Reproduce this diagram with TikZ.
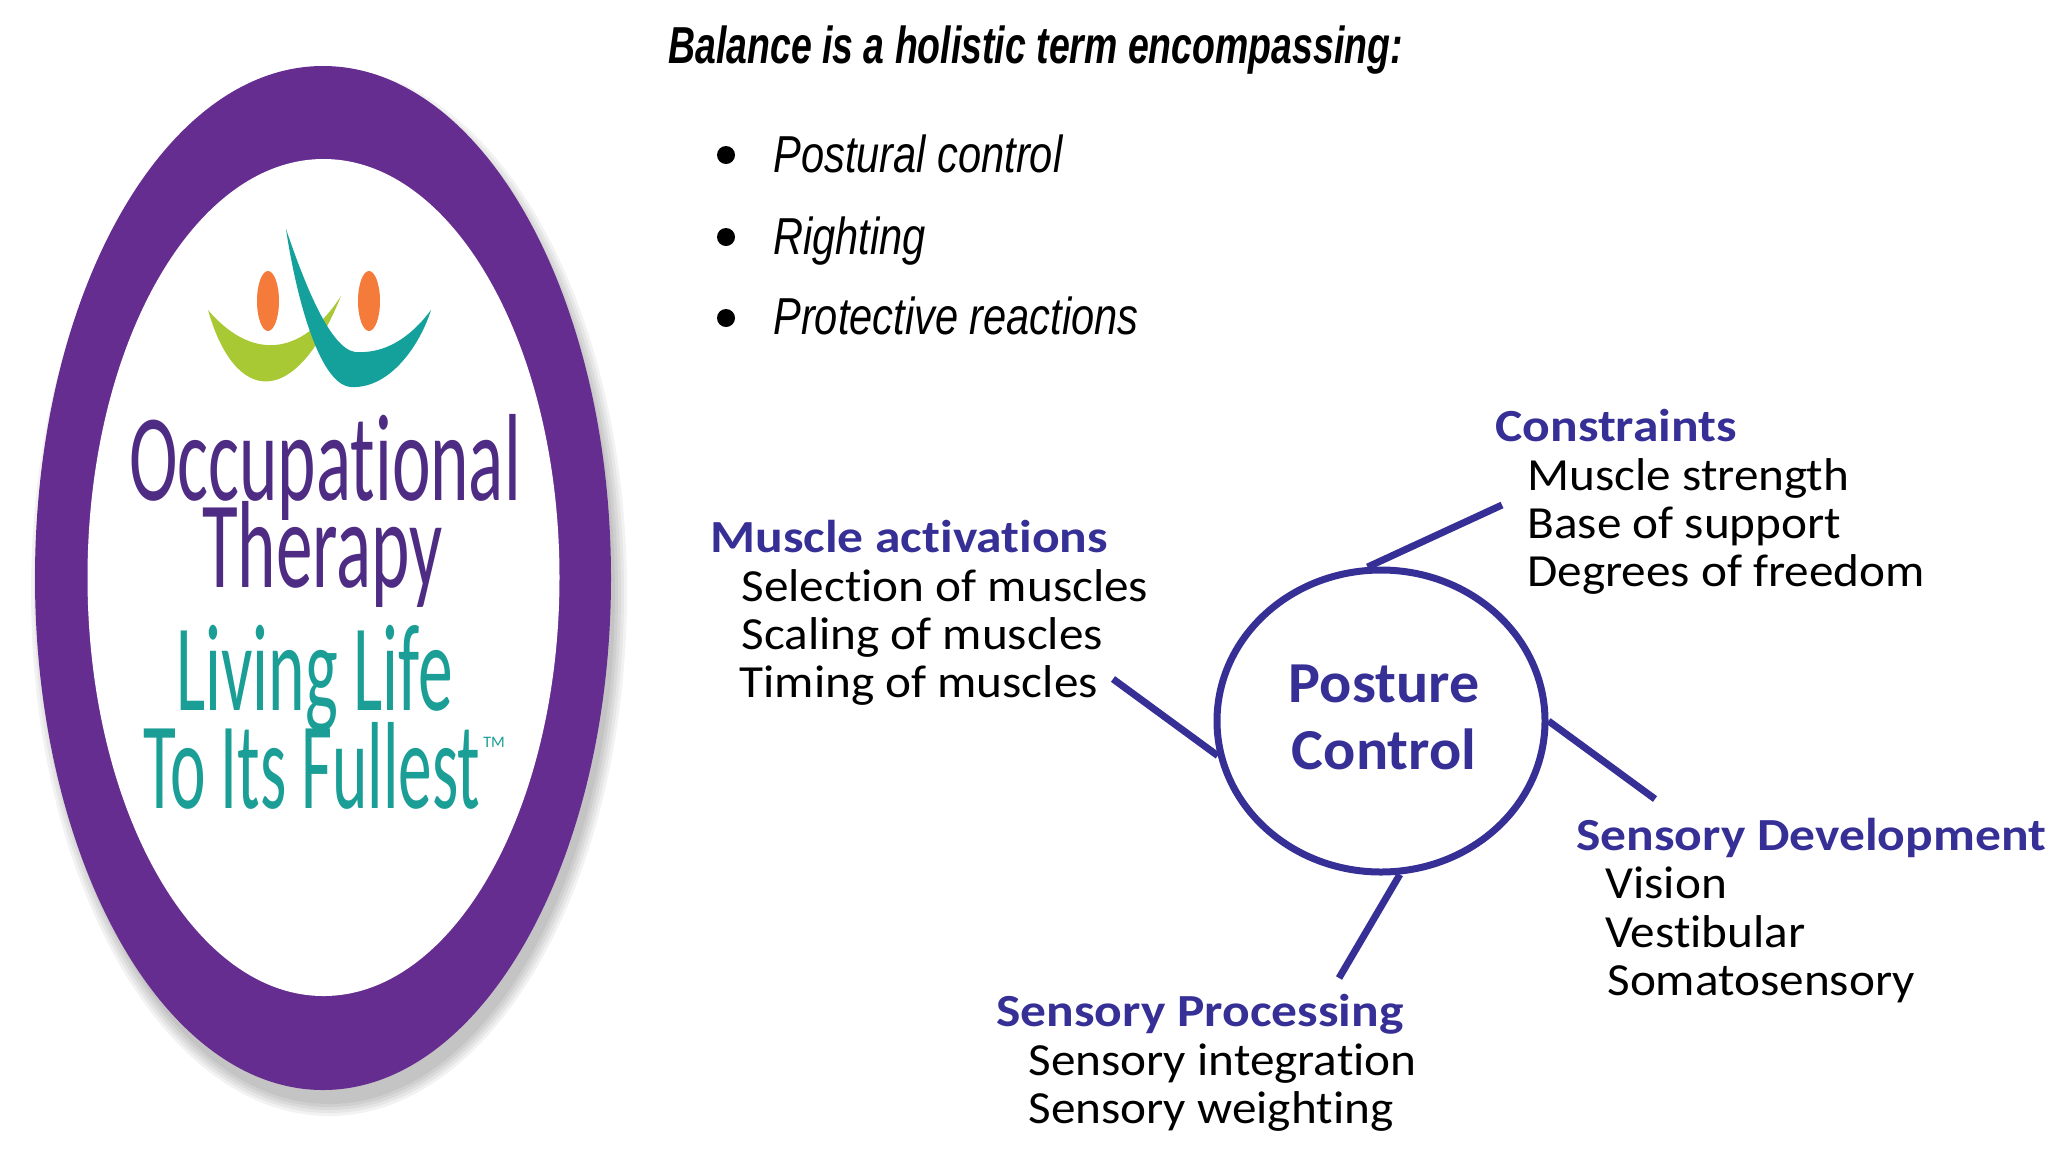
\documentclass[tikz,border=0pt]{standalone}
\usepackage{fontspec}
\setmainfont[Ligatures={NoCommon,NoContextual}]{Carlito}
\newfontfamily\headfont{Liberation Sans}
\usetikzlibrary{positioning, shapes.geometric}
\definecolor{ringpurple}{HTML}{662D91}
\definecolor{wordpurple}{HTML}{4F2C84}
\definecolor{wordteal}{HTML}{1A9E96}
\definecolor{leafgreen}{HTML}{A9C934}
\definecolor{leafteal}{HTML}{14A19B}
\definecolor{headorange}{HTML}{F47B3A}
\definecolor{postblue}{HTML}{362F96}
\tikzset{
    logoword/.style = {anchor=base west, inner sep=0pt, font=\fontsize{62}{62}\selectfont, xscale=.59, transform shape},
    topline/.style = {anchor=base west, inner sep=0pt, font=\headfont\itshape\fontsize{26}{26}\selectfont, xscale=.8, transform shape},
    dotitem/.style = {circle, fill=black, inner sep=0pt, minimum width=9pt},
    grouphead/.style = {anchor=base west, inner sep=0pt, text=postblue, font=\bfseries\fontsize{23}{23}\selectfont, xscale=1.12, transform shape},
    groupitem/.style = {anchor=base west, inner sep=0pt, font=\fontsize{23}{23}\selectfont, xscale=1.07, transform shape},
    spoke/.style = {draw=postblue, line width=3.5pt}
}
\begin{document}
\begin{tikzpicture}[x=0.5pt,y=-0.5pt]
    \useasboundingbox (0,0) rectangle (2048,1152);

    % logo disc
    \foreach \g in {14,11,...,2}
        \fill[black, opacity=0.05] (329,592) ellipse ({(284+\g)*0.5pt} and {(510+\g)*0.5pt});
    \fill[ringpurple] (323,578) ellipse (144pt and 256pt);
    \fill[white] (323.5,577.5) ellipse (118pt and 209.25pt);

    % figures of the logo
    \fill[headorange] (268,301) ellipse (5.5pt and 15pt);
    \fill[headorange] (369,301) ellipse (5.5pt and 15pt);
    \fill[leafgreen] (208,310) .. controls (235,405) and (295,410) .. (341,296)
        .. controls (300,359) and (250,359) .. (208,310) -- cycle;
    \fill[leafteal] (286,229) .. controls (295,290) and (318,385) .. (351,387)
        .. controls (390,389) and (420,345) .. (431,310)
        .. controls (410,338) and (385,354) .. (355,352)
        .. controls (330,348) and (305,285) .. (286,229) -- cycle;

    \node[logoword, text=wordpurple] (occ) at (129,500) {Occupational};
    \node[logoword, text=wordpurple] (ther) at (202,587) {Therapy};
    \node[logoword, text=wordteal, xscale=.95] (liv) at (176,710) {Living Life};
    \node[logoword, text=wordteal, xscale=.92] (full) at (143,808) {To Its Fullest};
    \node[anchor=center, inner sep=0pt, text=wordteal, font=\fontsize{8}{8}\selectfont] (tm) at (494,742) {TM};

    % balance list
    \node[topline, xscale=.9, font=\headfont\bfseries\itshape\fontsize{26}{26}\selectfont] (bal) at (668,63) {Balance is a holistic term encompassing:};
    \node[dotitem] (d1) at (726,155) {};
    \node[dotitem] (d2) at (726,237) {};
    \node[dotitem] (d3) at (726,318) {};
    \node[topline] (pos) at (773,172) {Postural control};
    \node[topline] (rig) at (773,254) {Righting};
    \node[topline] (pro) at (773,334) {Protective reactions};

    % posture circle
    \node[ellipse, draw=postblue, line width=3.5pt, minimum width=164pt, minimum height=151pt, inner sep=0pt] (pc) at (1381,721) {};
    \node[align=center, inner sep=0pt, text=postblue, font=\bfseries\fontsize{29}{33.5}\selectfont, xscale=1.035, transform shape] (pclabel) at (1384,717) {Posture\\Control};

    \coordinate (cons) at (1502,505);
    \coordinate (musc) at (1113,679);
    \coordinate (deve) at (1655,799);
    \coordinate (proc) at (1339,978);
    \draw[spoke] (pc.95) -- (cons);
    \draw[spoke] (pc.192) -- (musc);
    \draw[spoke] (pc.0) -- (deve);
    \draw[spoke] (pc.-83) -- (proc);

    \node[grouphead] (c0) at (1495,441) {Constraints};
    \node[groupitem] (c1) at (1527,490) {Muscle strength};
    \node[groupitem] (c2) at (1527,538) {Base of support};
    \node[groupitem] (c3) at (1527,586) {Degrees of freedom};

    \node[grouphead] (m0) at (710,552) {Muscle activations};
    \node[groupitem] (m1) at (741,601) {Selection of muscles};
    \node[groupitem] (m2) at (741,649) {Scaling of muscles};
    \node[groupitem] (m3) at (739,697) {Timing of muscles};

    \node[grouphead] (s0) at (1576,850) {Sensory Development};
    \node[groupitem] (s1) at (1605,898) {Vision};
    \node[groupitem] (s2) at (1605,947) {Vestibular};
    \node[groupitem] (s3) at (1607,995) {Somatosensory};

    \node[grouphead] (p0) at (996,1026) {Sensory Processing};
    \node[groupitem] (p1) at (1028,1075) {Sensory integration};
    \node[groupitem] (p2) at (1028,1123) {Sensory weighting};
\end{tikzpicture}
\end{document}
